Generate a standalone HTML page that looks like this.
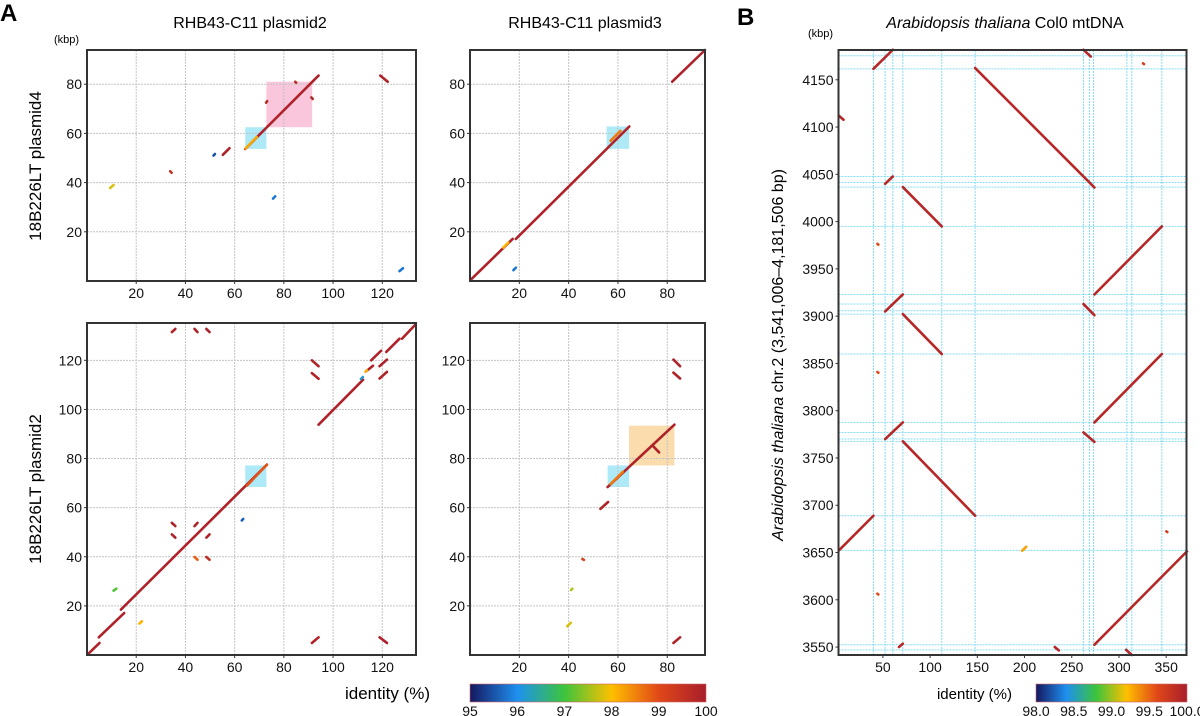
<!DOCTYPE html>
<html><head><meta charset="utf-8">
<style>
html,body{margin:0;padding:0;background:#fff;}
svg{display:block;font-family:"Liberation Sans",Arial,sans-serif;}
</style></head>
<body>
<svg id="fig" width="1200" height="716" viewBox="0 0 1200 716" xmlns="http://www.w3.org/2000/svg">
<defs>
<linearGradient id="gA" x1="0" x2="1" y1="0" y2="0">
<stop offset="0" stop-color="#15175e"/><stop offset="0.2" stop-color="#1e90f0"/><stop offset="0.4" stop-color="#3cc43c"/><stop offset="0.6" stop-color="#ffbf00"/><stop offset="0.8" stop-color="#e04818"/><stop offset="1" stop-color="#a81e2c"/>
</linearGradient>
</defs>
<text x="0" y="21" font-size="24" font-weight="bold">A</text>
<text x="737" y="25" font-size="24" font-weight="bold">B</text>
<text x="250" y="28" font-size="16" text-anchor="middle">RHB43-C11 plasmid2</text>
<text x="585" y="28" font-size="16" text-anchor="middle">RHB43-C11 plasmid3</text>
<text x="1005" y="28" font-size="16" text-anchor="middle"><tspan font-style="italic">Arabidopsis thaliana</tspan> Col0 mtDNA</text>
<text x="54" y="43" font-size="11">(kbp)</text>
<text x="808" y="37" font-size="11">(kbp)</text>
<text transform="translate(41,166) rotate(-90)" font-size="17" text-anchor="middle">18B226LT plasmid4</text>
<text transform="translate(41,489) rotate(-90)" font-size="17" text-anchor="middle">18B226LT plasmid2</text>
<text transform="translate(783,355) rotate(-90)" font-size="16" text-anchor="middle"><tspan font-style="italic">Arabidopsis thaliana</tspan> chr.2 (3,541,006–4,181,506 bp)</text>
<text x="430" y="699" font-size="17" text-anchor="end">identity (%)</text>
<text x="1012" y="699" font-size="15" text-anchor="end">identity (%)</text>
<rect x="470" y="684" width="236" height="18" fill="url(#gA)" stroke="#c66" stroke-width="0.6"/>
<rect x="1036" y="684" width="151" height="18" fill="url(#gA)" stroke="#c66" stroke-width="0.6"/>
<g id="layer"></g>
</svg>
<script>
// ---- data ----
const cbTicksA = ["95","96","97","98","99","100"];
const cbTicksB = ["98.0","98.5","99.0","99.5","100.0"];
const xTicksP2 = [20,40,60,80,100,120];
const xTicksP3 = [20,40,60,80];
const yTicksQ4 = [20,40,60,80];
const yTicksQ2 = [20,40,60,80,100,120];
const xTicksB = [50,100,150,200,250,300,350];
const yTicksB = [3550,3600,3650,3700,3750,3800,3850,3900,3950,4000,4050,4100,4150];
// segments: [x1,y1,x2,y2,identity]
const segTL = [[64.3,53.7,94.1,83.5,99.9],[64.5,53.9,69,58.5,98.2],[55.2,51.3,57.9,54.0,99.9],[51.4,51.0,52.0,51.6,95.5],[33.8,44.6,34.4,44.0,99.5],[9.4,37.8,10.8,39,97.8],[75.6,33.5,76.5,34.4,95.8],[127,4.0,128.4,5.2,95.8],[119.2,83.5,122.2,81,99.9],[72.8,72.5,73.2,73.1,99.7],[84.6,81,85.0,80.6,99.7],[91.2,74.6,91.7,74.0,99.8]];
const rectTL = [[72.9,62.5,91.5,81.0,"#f9c6db"],[64.3,53.7,72.9,62.5,"#aee9f8"]];
const segTR = [[0.7,0.9,17.3,17.1,99.9],[18.6,17.1,64.6,62.8,99.9],[13.5,13.6,15.5,15.6,98.1],[57,57,61,61,98.6],[82,81,95.3,93.9,99.9],[17.6,4.4,18.6,5.4,95.8]];
const rectTR = [[55.4,53.7,64.5,62.8,"#aee9f8"]];
const segBL = [[0.2,0.2,5.1,4.9,99.9],[4.8,7.2,15.1,17.1,99.9],[13.8,18.5,73.1,77.5,99.9],[65,69,73.1,77.5,98.9],[94.1,93.8,112.2,112.1,99.9],[113.8,115.8,116.2,117.8,99.9],[115.5,120,119.5,123.9,99.9],[121.6,123.4,127,128.8,99.9],[128,128.8,133.4,134.5,99.9],
[91.4,120,94.1,117.6,99.9],[91.4,114.8,94.1,112.5,99.9],[118.9,117.6,121.9,120.3,99.9],[118.9,112.6,121.9,115.3,99.9],[91.4,4.9,94.1,7.2,99.9],[118.9,7.2,121.9,4.9,99.9],
[34.5,131.5,35.9,132.8,99.9],[43.7,132.8,44.9,131.5,99.9],[48.5,132.8,49.8,131.5,99.9],[34.5,53.8,35.9,52.5,99.9],[34.5,49.1,35.9,47.8,99.9],[43.7,52.5,44.9,53.8,99.9],[48.5,47.8,49.8,49.1,99.9],[43.7,39.9,44.9,38.8,98.8],[48.5,39.9,49.8,38.8,99.6],
[62.9,54.8,63.5,55.4,95.6],[10.8,26.2,11.9,27,97.1],[21.3,12.8,22.3,13.7,98.1],[111.3,112.4,112.1,113.2,96.2],[113.2,115.4,113.8,115.9,98.2]];
const rectBL = [[64.3,68.4,72.9,77.2,"#aee9f8"]];
const segBR = [[55.8,68.4,82.9,93.8,99.9],[57,69.6,62,74.6,98.6],[52.9,59.5,56.0,62.3,99.9],[74.3,85,76.7,82.5,99.9],[82.5,120.3,85.2,117.6,99.9],[82.5,115,85.2,112.6,99.9],[82.5,4.9,85.2,7.2,99.9],[45.6,39.1,46.2,38.7,99.2],[41.0,26.5,41.5,27.0,97.6],[39.4,11.7,40.9,13.1,97.8]];
const rectBR = [[64.5,77.2,82.9,93.4,"#fbdcac"],[55.8,68.4,64.5,77.2,"#aee9f8"]];
const gridVB = [40,52.4,60.5,71.1,112.4,147.7,262.4,268.7,273,308.3,313.6,345.4];
const gridHB = [4175.4,4161.6,4047.7,4041.4,4036.5,3994.9,3922.9,3912.8,3905.7,3902.2,3859.9,3787.6,3777,3770,3767.6,3688.9,3652.2,3552.5,3547];
const segB = [[40,4161.6,60.5,4181.7,99.9],[3.4,4112,8.3,4107.7,99.9],[262.4,4181.7,270.2,4174.6,99.9],[147.7,4162.4,274,4036.1,99.9],[52.4,4040,60.5,4047.7,99.9],[71.1,4036.5,112.4,3994.9,99.9],[44.2,3976.4,45.2,3975.6,99.6],[274,3922.9,345.4,3994.9,99.9],[52.4,3905,71.1,3922.9,99.9],[71.1,3902.2,112.4,3859.9,99.9],[262.4,3912.8,274,3901,99.9],[325.5,4167.4,326.5,4166.6,99.7],[274,3787.6,345.4,3859.9,99.9],[44.2,3840.9,45.2,3840.1,99.6],[52.4,3770,71.1,3787.6,99.9],[71.1,3767.6,147.7,3688.9,99.9],[262.4,3777,274,3767,99.9],[3.4,3652.2,40,3688.9,99.9],[197.5,3651.9,201.7,3656,99.3],[350.2,3672.4,351.2,3671.6,99.7],[44.2,3606.4,45.2,3605.6,99.6],[274,3552.5,372,3651.2,99.9],[67,3550,71.1,3553.5,99.9],[232,3550,236.3,3546.5,99.9],[307.6,3547,313.6,3541.6,99.9]];

// ---- helpers ----
const NS="http://www.w3.org/2000/svg";
const layer=document.getElementById('layer');
function mk(tag,attrs,parent){const e=document.createElementNS(NS,tag);for(const k in attrs)e.setAttribute(k,attrs[k]);(parent||layer).appendChild(e);return e;}
const stops=[[0,[21,23,94]],[0.2,[30,144,240]],[0.4,[60,196,60]],[0.6,[255,191,0]],[0.8,[224,72,24]],[1,[168,30,44]]];
function col(t){t=Math.max(0,Math.min(1,t));for(let i=1;i<stops.length;i++){if(t<=stops[i][0]){const a=stops[i-1],b=stops[i];const f=(t-a[0])/(b[0]-a[0]);const c=a[1].map((v,j)=>Math.round(v+(b[1][j]-v)*f));return `rgb(${c[0]},${c[1]},${c[2]})`;}}return 'rgb(168,30,44)';}

function panel(name,box,dom,xt,yt,segs,rects,idMin,bGrid){
  const sx=v=>box.x0+(v-dom.x0)*(box.x1-box.x0)/(dom.x1-dom.x0);
  const sy=v=>box.y1-(v-dom.y0)*(box.y1-box.y0)/(dom.y1-dom.y0);
  const g=mk('g',{});
  
  
  mk('rect',{x:box.x0,y:box.y0,width:box.x1-box.x0,height:box.y1-box.y0,fill:'#fff'},g);
  rects.forEach(r=>{const e=mk('rect',{x:sx(r[0]),y:sy(r[3]),width:sx(r[2])-sx(r[0]),height:sy(r[1])-sy(r[3]),fill:r[4]},g);
    
    });
  if(bGrid){
    gridVB.forEach(v=>{const e=mk('line',{x1:sx(v),x2:sx(v),y1:box.y0,y2:box.y1,stroke:'#86dcf4','stroke-width':1,'stroke-dasharray':'2,1'},g);
      
      });
    gridHB.forEach(v=>{const e=mk('line',{x1:box.x0,x2:box.x1,y1:sy(v),y2:sy(v),stroke:'#86dcf4','stroke-width':1,'stroke-dasharray':'2,1'},g);
      
      });
  } else {
    xt.forEach(v=>{const e=mk('line',{x1:sx(v),x2:sx(v),y1:box.y0,y2:box.y1,stroke:'#c4c4c4','stroke-width':1,'stroke-dasharray':'2,1'},g);
      
      });
    yt.forEach(v=>{const e=mk('line',{x1:box.x0,x2:box.x1,y1:sy(v),y2:sy(v),stroke:'#c4c4c4','stroke-width':1,'stroke-dasharray':'2,1'},g);
      
      });
  }
  segs.forEach(s=>{const e=mk('line',{x1:sx(s[0]),y1:sy(s[1]),x2:sx(s[2]),y2:sy(s[3]),stroke:col((s[4]-idMin)/(100-idMin)),'stroke-width':2.6,'stroke-linecap':'round'},g);
    
    });
  const fr=mk('rect',{x:box.x0,y:box.y0,width:box.x1-box.x0,height:box.y1-box.y0,fill:'none',stroke:'#333','stroke-width':2},g);
  
  
  xt.forEach(v=>{mk('line',{x1:sx(v),x2:sx(v),y1:box.y1,y2:box.y1+3,stroke:'#333'},g);
    const t=mk('text',{x:sx(v),y:box.y1+17,'font-size':14,'text-anchor':'middle',fill:'#111'},g);t.textContent=v;
    
    });
  yt.forEach(v=>{mk('line',{x1:box.x0-3,x2:box.x0,y1:sy(v),y2:sy(v),stroke:'#333'},g);
    const t=mk('text',{x:box.x0-5,y:sy(v)+5,'font-size':14,'text-anchor':'end',fill:'#111'},g);t.textContent=v;
    
    });
}
panel('plasmid2-vs-plasmid4',{x0:87,x1:416,y0:50,y1:281},{x0:0,x1:133.7,y0:0,y1:93.9},xTicksP2,yTicksQ4,segTL,rectTL,95,false);
panel('plasmid3-vs-plasmid4',{x0:470,x1:705,y0:50,y1:281},{x0:0,x1:95.3,y0:0,y1:93.9},xTicksP3,yTicksQ4,segTR,rectTR,95,false);
panel('plasmid2-vs-plasmid2',{x0:87,x1:416,y0:323,y1:655},{x0:0,x1:133.7,y0:0,y1:135.2},xTicksP2,yTicksQ2,segBL,rectBL,95,false);
panel('plasmid3-vs-plasmid2',{x0:470,x1:705,y0:323,y1:655},{x0:0,x1:95.3,y0:0,y1:135.2},xTicksP3,yTicksQ2,segBR,rectBR,95,false);
panel('mtdna-vs-chr2',{x0:838.5,x1:1186.5,y0:50,y1:655},{x0:3,x1:371.5,y0:3541.6,y1:4181.5},xTicksB,yTicksB,segB,[],98,true);

function cb(labels,x0,x1,nm){labels.forEach((l,i)=>{const t=mk('text',{x:x0+(x1-x0)*i/(labels.length-1),y:716,'font-size':14,'text-anchor':'middle',fill:'#111'});t.textContent=l;
  
  });}
cb(cbTicksA,470,706,'colorbar-a-tick');
cb(cbTicksB,1036,1187,'colorbar-b-tick');
</script>
</body></html>
